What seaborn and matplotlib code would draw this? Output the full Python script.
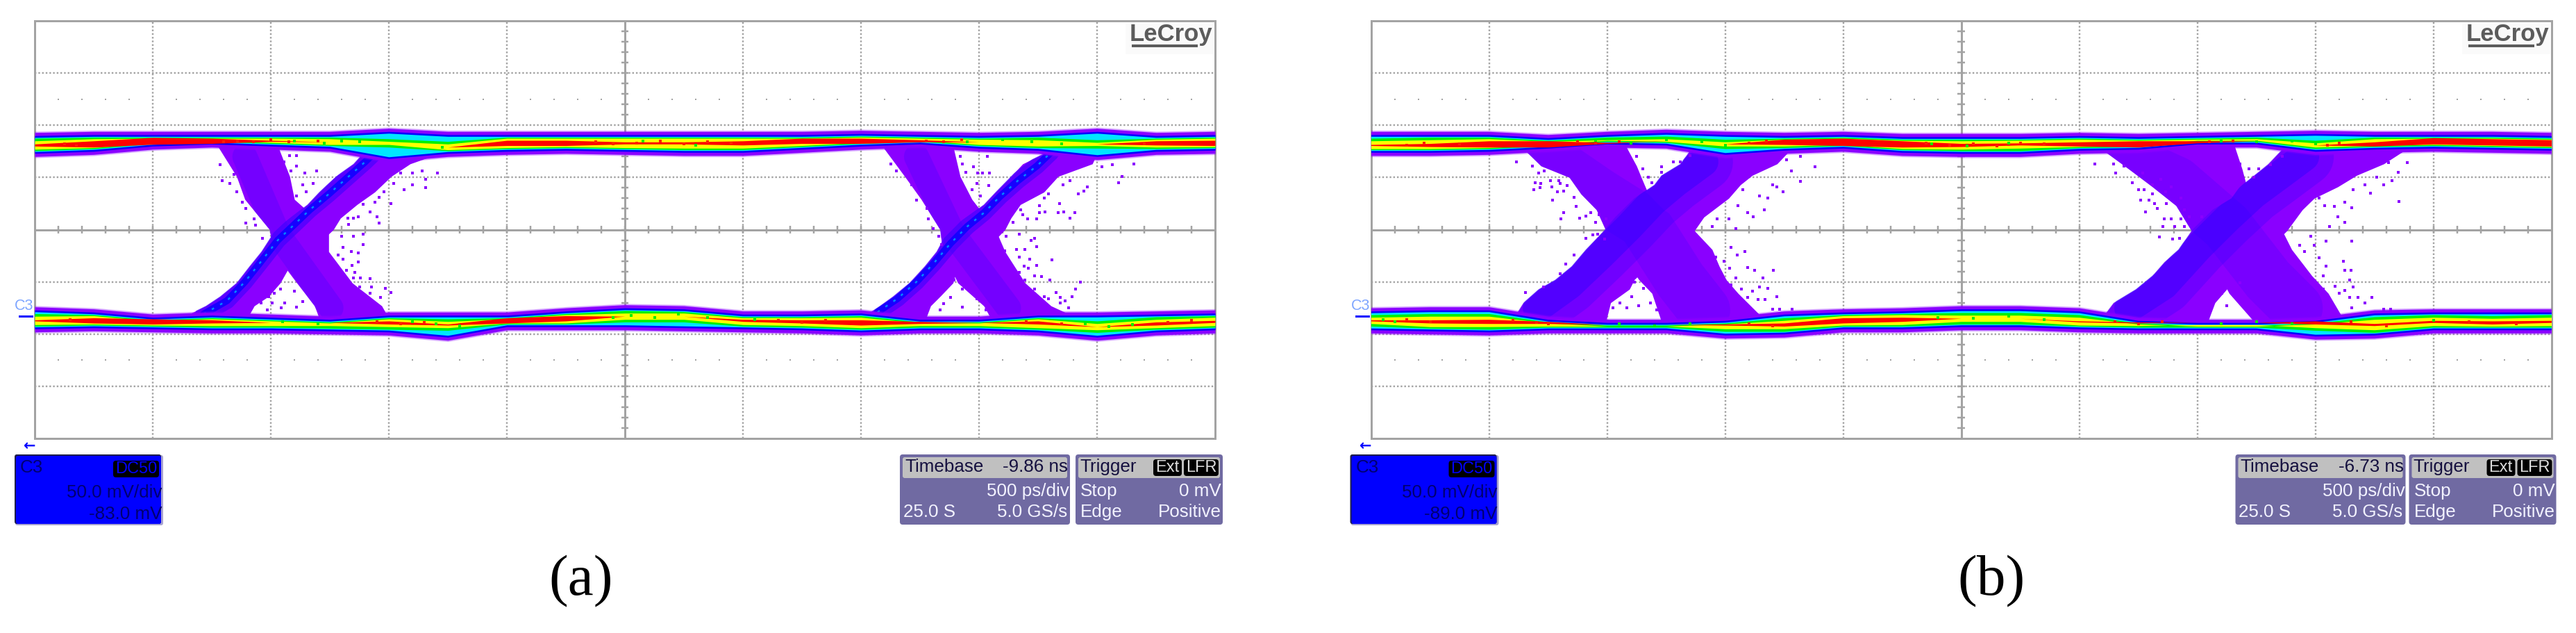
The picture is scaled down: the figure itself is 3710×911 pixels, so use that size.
import numpy as np
import matplotlib
matplotlib.use("Agg")
import matplotlib.pyplot as plt
from matplotlib.patches import FancyBboxPatch, Rectangle
import seaborn as sns

# time in divisions (500 ps/div), level in mV (50 mV/div)
rail_t = [0, .5, 1, 1.5, 2, 2.5, 3, 3.5, 4, 4.5, 5, 5.5, 6, 6.5, 7, 7.5, 8, 8.5, 9, 9.5, 10]

# panel a - upper rail
a_top_up = [93, 94, 94, 94, 94, 94, 97, 94, 94, 94, 94, 94, 94, 94, 95, 94, 93, 94, 97, 93, 94]
a_top_dn = [70, 72, 77, 79, 77, 75, 65, 70, 72, 73, 72, 71, 71, 74, 77, 79, 75, 73, 67, 72, 73]
a_top_c = [81, 82, 85, 85, 85, 84, 83, 79, 83, 83, 83, 83, 83, 85, 85, 85, 84, 83, 82, 83, 83]
a_top_red = [1, 3, 3.3, 2.5, .5, 0, 0, 0, 2.5, 2.5, 1, 1, 2, 2.5, 2.5, 1, 0, 0, 0, 2, 2.5]
a_top_yel = [4, 5, 5, 4, 3, 3, 1.5, 3, 5, 5, 5, 5, 5, 5, 5, 4, 3, 3, 1.5, 4, 5]
# panel a - lower rail
a_bot_up = [-74, -76, -81, -79, -81, -83, -79, -79, -79, -75, -72, -73, -78, -78, -77, -83, -83, -79, -79, -78, -77]
a_bot_dn = [-98, -97, -98, -99, -99, -100, -101, -106, -96, -96, -96, -97, -98, -99, -101, -99, -99, -101, -106, -101, -99]
a_bot_c = [-87, -87, -88, -88, -89, -89, -89, -91, -87, -85, -83, -83, -87, -88, -89, -89, -89, -89, -93, -90, -88]
a_bot_red = [.5, 2.5, 2.5, 1.5, 0, 0, 1.5, .5, 2.5, 2.5, 0, 0, 1, 1.5, 2.5, 1, 0, 1.5, 0, 1.5, 1]
a_bot_yel = [4, 5, 5, 4, 3, 3, 4, 3, 5, 5, 3, 3, 4, 4, 5, 3, 3, 5, 3, 4, 4]
# panel b - upper rail
b_top_up = [94, 94, 94, 91, 94, 96, 94, 93, 94, 92, 92, 92, 93, 92, 93, 94, 95, 94, 94, 94, 93]
b_top_dn = [71, 71, 72, 75, 79, 78, 69, 73, 75, 71, 70, 70, 73, 74, 79, 79, 72, 74, 75, 74, 73]
b_top_c = [81, 81, 82, 82, 83, 85, 82, 84, 84, 82, 81, 82, 82, 82, 84, 85, 81, 82, 85, 84, 83]
b_top_red = [.5, 1.5, 3, 3, .5, 0, 0, 2.5, 3.5, 3, 1.5, 1, 2, 3, 1, 0, 0, 2, 3, 3, 3]
b_top_yel = [4, 5, 5, 5, 3, 2, 2, 4, 5, 5, 4, 4, 5, 5, 3, 2, 2, 5, 5, 5, 5]
# panel b - lower rail
b_bot_up = [-75, -74, -74, -83, -86, -86, -84, -78, -76, -75, -73, -73, -75, -84, -86, -86, -84, -77, -76, -76, -76]
b_bot_dn = [-99, -100, -101, -99, -99, -99, -104, -103, -98, -98, -96, -96, -98, -99, -99, -99, -105, -104, -99, -99, -99]
b_bot_c = [-87, -88, -88, -89, -91, -91, -91, -91, -87, -86, -85, -85, -88, -89, -89, -89, -89, -91, -88, -89, -88]
b_bot_red = [.5, 1.5, 2, 1, 0, 0, .5, 1.5, 2.5, 2, 0, 0, .5, .5, 0, 0, 1.5, 1, 1, 1.5, 1]
b_bot_yel = [3, 5, 5, 4, 2, 2, 4, 4, 5, 5, 3, 3, 4, 3, 2, 2, 5, 5, 4, 4, 4]

# hot and cooler flecks where the rails look mottled
a_red_t = [1.6, 1.72, 1.85, 2.0, 2.15, 2.4, 4.75, 4.9, 5.1, 5.3, 5.5, 5.7, 5.9, 7.55, 7.7, 7.85, .25, .35, 9.4, 2.9, 3.1, 3.3, 6.3, 6.5, 6.7, 8.4, 8.7, 9.6, 9.8, .3]
a_red_v = [84, 85, 84, 86, 84, 85, 84, 82, 83, 85, 82, 84, 83, 85, 84, 86, 82, 80, 82, -88, -90, -89, -87, -89, -87, -88, -90, -89, -87, -86]
b_red_t = [.3, .45, .75, 1.75, 1.9, 2.1, 3.2, 3.35, 4.7, 4.9, 5.1, 5.3, 5.5, 5.7, 7.1, 7.3, 8.1, 8.2, .3, .5, 1.2, 1.4, 1.5, 3.2, 3.4, 6.3, 6.5, 6.7, 8.3, 8.6, 9.3, 9.7]
b_red_v = [81, 83, 82, 84, 83, 84, 83, 85, 83, 81, 82, 80, 83, 82, 84, 85, 81, 83, -86, -88, -87, -89, -90, -90, -92, -88, -90, -88, -88, -92, -88, -90]
a_grn_t = [2.2, 2.45, 2.6, 2.75, 3.45, 5.15, 5.6, 7.9, 8.2, 8.45, 8.7, 3.2, 3.4, 3.6, 4.9, 5.05, 5.25, 5.45, 5.7, 8.9, 9.1, 9.3, 2.1, 2.4, 6.1]
a_grn_v = [85, 83, 85, 84, 79, 85, 81, 84, 86, 84, 82, -88, -90, -92, -84, -82, -84, -81, -84, -90, -93, -91, -88, -90, -86]
b_grn_t = [1.9, 2.2, 2.5, 2.8, 3.0, 4.75, 5.05, 5.4, 7.2, 7.5, 7.8, 8.0, .1, .2, 2.1, 2.4, 2.7, 4.8, 5.1, 5.4, 5.7, 7.2, 7.5, 7.8, 9.0]
b_grn_v = [84, 83, 86, 84, 81, 82, 80, 83, 85, 84, 85, 82, -86, -88, -90, -92, -90, -84, -85, -83, -86, -90, -88, -90, -87]

# rising and falling edges, outline of the persistence cloud
a1_rise_v = [-85, -73, -64, -51, -35, -21, 0, 11, 24, 36, 51, 63, 73, 80]
a1_rise_l = [1.235, 1.45, 1.57, 1.71, 1.82, 1.92, 2.04, 2.16, 2.31, 2.41, 2.55, 2.70, 2.78, 2.86]
a1_rise_r = [1.80, 1.86, 1.98, 2.08, 2.16, 2.33, 2.53, 2.59, 2.73, 2.88, 3.02, 3.18, 3.43, 3.59]
a1_fall_v = [80, 51, 29, 0, -21, -51, -73, -85]
a1_fall_l = [1.55, 1.71, 1.78, 1.99, 2.02, 2.22, 2.37, 2.41]
a1_fall_r = [2.06, 2.16, 2.20, 2.49, 2.49, 2.69, 2.94, 3.0]
a1_core_t = [1.43, 1.63, 1.78, 1.90, 2.06, 2.20, 2.33, 2.49, 2.65, 2.80, 2.90]
a1_core_v = [-81, -68, -50, -33, -10, 5, 19, 34, 50, 65, 76]
a1_fcore_t = [1.78, 2.06, 2.51]
a1_fcore_v = [70, -4, -75]

a2_rise_v = [-85, -73, -64, -51, -35, -21, 0, 11, 24, 36, 51, 63, 73, 80]
a2_rise_l = [7.0, 7.16, 7.27, 7.41, 7.54, 7.64, 7.74, 7.88, 8.04, 8.14, 8.27, 8.37, 8.55, 8.61]
a2_rise_r = [7.55, 7.59, 7.67, 7.78, 7.82, 8.04, 8.22, 8.27, 8.35, 8.55, 8.67, 8.96, 9.0, 9.14]
a2_fall_v = [80, 51, 29, 0, -21, -51, -73, -85]
a2_fall_l = [7.18, 7.37, 7.51, 7.67, 7.69, 7.82, 8.04, 8.10]
a2_fall_r = [7.78, 7.84, 7.94, 8.14, 8.22, 8.39, 8.61, 8.84]
a2_core_t = [7.14, 7.31, 7.47, 7.61, 7.76, 7.90, 8.04, 8.18, 8.33, 8.49, 8.61]
a2_core_v = [-79, -66, -50, -33, -13, 3, 16, 32, 47, 61, 74]
a2_fcore_t = [7.47, 7.78, 8.25]
a2_fcore_v = [70, -4, -75]

b1_rise_v = [-88, -70, -57, -48, -35, -19, -1, 12, 30, 43, 52, 63, 82]
b1_rise_l = [1.19, 1.29, 1.42, 1.56, 1.70, 1.82, 1.97, 2.07, 2.23, 2.40, 2.46, 2.62, 2.74]
b1_rise_r = [1.99, 2.03, 2.19, 2.23, 2.35, 2.56, 2.74, 2.82, 3.03, 3.13, 3.23, 3.44, 3.60]
b1_fall_v = [82, 61, 50, 34, 19, -1, -19, -35, -48, -61, -88]
b1_fall_l = [1.25, 1.44, 1.68, 1.78, 1.91, 1.99, 2.11, 2.19, 2.27, 2.38, 2.46]
b1_fall_r = [2.15, 2.25, 2.29, 2.35, 2.48, 2.74, 2.89, 2.95, 3.01, 3.11, 3.35]
b1_core_t = [1.41, 1.68, 1.95, 2.19, 2.39, 2.58, 2.82]
b1_core_v = [-75, -53, -24, 3, 27, 45, 65]
b1_fcore_t = [1.44, 1.93, 2.31, 2.62, 2.82]
b1_fcore_v = [72, 34, 7, -48, -77]

b2_rise_v = [-88, -70, -57, -44, -31, -19, -1, 19, 30, 41, 52, 63, 82]
b2_rise_l = [6.17, 6.29, 6.48, 6.62, 6.72, 6.84, 6.95, 7.13, 7.29, 7.36, 7.48, 7.60, 7.76]
b2_rise_r = [7.09, 7.15, 7.25, 7.31, 7.40, 7.60, 7.76, 7.89, 7.99, 8.19, 8.35, 8.58, 8.84]
b2_fall_v = [82, 58, 41, 23, -1, -19, -44, -61, -88]
b2_fall_l = [6.13, 6.42, 6.62, 6.82, 6.95, 7.09, 7.19, 7.27, 7.48]
b2_fall_r = [7.31, 7.38, 7.42, 7.56, 7.72, 7.80, 7.97, 8.11, 8.25]
b2_core_t = [6.42, 6.72, 7.01, 7.25, 7.48, 7.72, 7.91]
b2_core_v = [-75, -53, -17, 10, 34, 54, 70]
b2_fcore_t = [6.33, 6.82, 7.25, 7.60, 7.84]
b2_fcore_v = [70, 45, 3, -48, -75]

# stray hits around each crossing
a1_spk_t = [2.65, 2.70, 2.74, 2.84, 2.90, 2.92, 2.66, 2.60, 2.70, 2.78, 2.78, 2.74, 2.68, 2.61, 2.57, 2.50, 2.55, 2.61, 2.69, 2.74,
            2.64, 2.71, 2.70, 2.76, 2.84, 2.75, 2.85, 2.84, 2.97, 3.02, 2.93, 3.02, 2.96, 2.92, 2.88, 2.78, 3.31, 3.20, 3.13, 3.04,
            3.28, 3.41, 3.20, 3.10, 3.31, 2.27, 2.36, 2.30, 2.22, 2.29, 2.39, 2.22, 2.16, 2.22, 2.11, 2.17, 1.57, 1.59, 1.71, 1.69,
            1.65, 1.76, 1.79, 1.86, 1.79, 1.87, 1.93, 1.92, 2.01, 2.03, 2.08, 2.20, 2.27, 2.22, 2.12, 1.98, 2.09, 1.97]
a1_spk_v = [11, 11, 12, 17, 12, 6, 5, -6, -6, -4, -14, -22, -21, -17, -24, -28, -35, -28, -34, -31,
            -39, -41, -46, -46, -47, -55, -55, -61, -56, -60, -65, 25, 36, 31, 26, 24, 40, 43, 38, 44,
            56, 54, 54, 54, 48, 43, 44, 36, 32, 54, 56, 61, 71, 71, 65, 56, 62, 47, 36, 53,
            44, 26, 20, 10, 6, 4, -8, -70, -70, -61, -57, -59, -69, -74, -70, -64, -75, -77]

a2_spk_t = [8.29, 8.37, 8.41, 8.49, 8.72, 8.67, 8.77, 8.68, 8.81, 8.84, 8.89, 8.92, 8.77, 8.71, 8.59, 8.55, 8.51, 8.56, 8.51, 8.35,
            8.23, 8.34, 8.44, 8.47, 8.49, 8.32, 8.39, 8.22, 8.34, 8.43, 8.62, 8.49, 8.38, 8.29, 8.34, 8.42, 8.47, 8.53, 8.39, 8.47,
            8.60, 8.55, 8.59, 8.69, 8.65, 8.82, 8.86, 8.79, 8.73, 8.69, 8.76, 7.25, 7.30, 7.35, 7.43, 7.47, 7.56, 7.57, 7.61, 7.66,
            7.68, 7.86, 7.89, 7.95, 7.99, 8.03, 8.09, 8.07, 7.98, 7.94, 8.01, 8.08, 7.84, 7.74, 7.79, 7.86, 7.76, 7.86, 7.98, 7.70,
            8.06, 7.67, 9.04, 9.13, 9.18, 9.31, 9.21]
a2_spk_v = [7, 14, 10, 10, 17, 16, 11, 25, 16, 34, 37, 41, 47, 43, 34, 30, 23, 17, 16, 19,
            -6, -4, -10, -8, -16, -19, -19, -20, -26, -28, -29, -34, -35, -37, -41, -37, -44, -45, -48, -57,
            -48, -64, -66, -65, -60, -57, -50, -64, -68, -70, -75, 63, 56, 58, 43, 28, 20, 10, 1, -6,
            -14, 63, 55, 60, 54, 54, 54, 70, 44, 38, 32, 42, 70, 74, -48, -57, -65, -74, -66, -71,
            -77, -77, 60, 62, 45, 63, 51]

b1_spk_t = [1.23, 1.37, 1.42, 1.47, 1.39, 1.44, 1.38, 1.43, 1.54, 1.53, 1.58, 1.63, 1.60, 1.66, 1.52, 1.59, 1.72, 1.74, 1.63, 1.61,
            1.77, 1.82, 1.86, 1.90, 1.93, 1.99, 1.82, 1.88, 1.92, 1.98, 1.72, 1.65, 1.60, 1.46, 1.31, 3.76, 3.64, 3.49, 3.36, 3.33,
            3.24, 3.19, 3.11, 3.06, 3.15, 3.29, 3.40, 3.44, 3.56, 3.52, 3.64, 3.03, 3.09, 2.93, 2.89, 2.82, 3.10, 3.17, 3.05, 3.19,
            3.25, 3.41, 3.32, 3.04, 3.09, 3.29, 3.36, 3.14, 3.44, 3.23, 3.19, 3.28, 3.34, 3.40, 3.57, 3.46, 2.99, 2.92, 2.86, 2.97,
            3.05, 2.19, 2.25, 2.30, 2.35, 2.38, 2.46, 2.56, 2.62, 2.46, 2.70, 2.23, 2.31, 2.21, 2.11, 2.05, 2.27, 2.37, 2.42, 2.17]
b1_spk_v = [65, 61, 54, 56, 45, 44, 38, 40, 28, 41, 36, 37, 44, 42, 47, 47, 31, 22, 16, 10,
            11, 13, 16, 7, 14, 10, -8, -5, -4, -9, -24, -33, -42, -55, -60, 60, 46, 36, 30, 19,
            12, 16, 23, 36, 38, 32, 43, 41, 56, 67, 70, 10, 1, 10, 3, 16, -24, -21, -17, -36,
            -39, -39, -46, -37, -46, -55, -56, -57, -64, -59, -65, -67, -67, -76, -76, -76, -30, -26, -30, -42,
            -53, 67, 70, 58, 50, 45, 55, 65, 65, 60, 71, -50, -56, -64, -70, -75, -73, -70, -77, -75]

b2_spk_t = [6.13, 6.29, 6.38, 6.31, 6.45, 6.50, 6.55, 6.54, 6.62, 6.69, 6.62, 6.73, 6.78, 6.52, 6.59, 6.64, 6.66, 6.74, 6.56, 6.72,
            6.78, 6.71, 6.81, 6.86, 6.93, 6.89, 6.86, 7.04, 6.85, 6.79, 6.68, 6.89, 8.71, 8.58, 8.65, 8.42, 8.47, 8.32, 8.25, 8.31,
            8.16, 8.25, 8.19, 8.12, 8.02, 8.08, 8.03, 8.70, 8.78, 8.62, 8.52, 8.31, 8.09, 8.24, 8.30, 8.25, 8.09, 8.29, 8.32, 8.25,
            8.17, 8.36, 8.29, 8.48, 8.42, 8.31, 8.58, 8.64, 8.07, 8.03, 7.99, 7.91, 7.96, 7.87, 8.20, 8.07, 7.27, 7.36, 7.44, 7.48,
            7.36, 7.27, 7.52, 7.62, 7.72, 7.36, 7.29, 7.21, 7.13, 7.25, 7.36, 7.44, 7.09, 7.47]
b2_spk_v = [63, 63, 61, 54, 45, 38, 38, 54, 43, 48, 34, 36, 41, 28, 28, 25, 20, 25, 17, 10,
            10, 3, 3, 10, 12, 19, 30, 12, -8, -9, -7, 3, 27, 43, 47, 43, 35, 38, 26, 21,
            22, 7, 12, 3, 38, 23, 30, 55, 64, 64, 50, -11, -11, -30, -39, -39, -35, -48, -55, -58,
            -54, -65, -65, -65, -70, -75, -76, -76, -44, -27, -15, -21, -6, -15, -61, -57, 68, 63, 58, 50,
            51, 52, 58, 62, 70, -51, -50, -61, -66, -73, -64, -70, -76, -77]

sns.set_theme(style="white")
plt.rcParams["font.family"] = ["Liberation Sans", "DejaVu Sans"]

W, H = 3710, 911
fig = plt.figure(figsize=(W / 100, H / 100), dpi=100, facecolor="white")

GRID = "#a3a3a3"
PURPLE = "#8a00ff"


def px(n):
    return n * 0.72


def scope_axes(x0):
    ax = fig.add_axes([x0 / W, (H - 631) / H, 1700 / W, 601 / H])
    ax.set_xlim(0, 10)
    ax.set_ylim(-200, 200)
    ax.set_xticks([])
    ax.set_yticks([])
    for s in ax.spines.values():
        s.set_color(GRID)
        s.set_linewidth(px(3))
    for t in [1, 2, 3, 4, 6, 7, 8, 9]:
        ax.axvline(t, color=GRID, lw=px(2.4), ls=(0, (1, 1.2)), zorder=1)
    for v in [-150, -100, -50, 50, 100, 150]:
        ax.axhline(v, color=GRID, lw=px(2.4), ls=(0, (1, 1.2)), zorder=1)
    ax.axvline(5, color=GRID, lw=px(3), zorder=1)
    ax.axhline(0, color=GRID, lw=px(3), zorder=1)
    ticks_t = np.arange(0.2, 10, 0.2)
    ticks_v = np.arange(-190, 200, 10)
    ax.vlines(ticks_t, -3.5, 3.5, color=GRID, lw=px(2.5), zorder=1)
    ax.hlines(ticks_v, 4.97, 5.03, color=GRID, lw=px(2.5), zorder=1)
    dots_t = [t for t in ticks_t if abs(t - round(t)) > 0.01]
    for v in [125, -125]:
        sns.scatterplot(x=dots_t, y=[v] * len(dots_t), ax=ax, marker="s", s=4, color=GRID,
                        linewidth=0, legend=False, zorder=1)
    return ax


def soft_line(ax, xy, color, width, alpha, clip, **kw):
    sns.lineplot(x=xy[0], y=xy[1], ax=ax, sort=False, estimator=None, color=color, lw=px(width),
                 alpha=alpha, solid_capstyle="round", legend=False, zorder=3, **kw)
    line = ax.lines[-1]
    line.set_clip_path(clip.get_paths()[0], ax.transData)


def draw_eye(ax, rise, fall, core, fcore, spk, dense):
    r = ax.fill_betweenx(rise[0], rise[1], rise[2], color=PURPLE, lw=0, zorder=2)
    f = ax.fill_betweenx(fall[0], fall[1], fall[2], color=PURPLE, lw=0, zorder=2)
    if dense:
        # eye is closing: traces smear out into a wide soft ridge
        soft_line(ax, fcore, "#4a00ff", 76, 0.28, f)
        soft_line(ax, core, "#3000ff", 84, 0.28, r)
        soft_line(ax, core, "#1c00ff", 42, 0.35, r)
    else:
        soft_line(ax, fcore, "#5a00ff", 36, 0.45, f)
        soft_line(ax, core, "#3a00ff", 24, 0.6, r)
        soft_line(ax, core, "#1000ff", 10, 0.9, r)
        soft_line(ax, core, "#00a8ff", 2.5, 0.8, r, ls=(0, (1.5, 4)))
    sns.scatterplot(x=spk[0], y=spk[1], ax=ax, marker="s", s=12, color=PURPLE, linewidth=0,
                    legend=False, zorder=3)


def draw_rail(ax, up, dn, c, red, yel):
    up, dn, c, red, yel = [np.array(a, dtype=float) for a in (up, dn, c, red, yel)]
    # faint halo so the noise edge of the rail is not razor sharp
    ax.fill_between(rail_t, dn - 1.2, up + 1.2, color=PURPLE, alpha=0.35, lw=0, zorder=3.5)
    ax.fill_between(rail_t, dn, up, color=PURPLE, lw=0, zorder=4)
    ax.fill_between(rail_t, dn + 3, up - 3, color="#0000ff", lw=0, zorder=4)
    ax.fill_between(rail_t, dn + 4.7, up - 4.7, color="#00e6ff", lw=0, zorder=4)
    g_hi = np.minimum(c + yel + 2.5, up - 5.5)
    g_lo = np.maximum(c - yel - 2.5, dn + 5.5)
    ax.fill_between(rail_t, g_lo, g_hi, color="#00f000", lw=0, zorder=4)
    y_hi = np.minimum(c + yel, g_hi - 1)
    y_lo = np.maximum(c - yel, g_lo + 1)
    ax.fill_between(rail_t, y_lo, y_hi, color="#ffff00", lw=0, zorder=4)
    ax.fill_between(rail_t, c - red, c + red, color="#ff0000", lw=0, zorder=5)


def flecks(ax, t, v, color):
    sns.scatterplot(x=t, y=v, ax=ax, marker="s", s=10, color=color, linewidth=0, legend=False, zorder=6)


ax_a = scope_axes(50)
ax_b = scope_axes(1974.5)

draw_eye(ax_a, (a1_rise_v, a1_rise_l, a1_rise_r), (a1_fall_v, a1_fall_l, a1_fall_r),
         (a1_core_t, a1_core_v), (a1_fcore_t, a1_fcore_v), (a1_spk_t, a1_spk_v), False)
draw_eye(ax_a, (a2_rise_v, a2_rise_l, a2_rise_r), (a2_fall_v, a2_fall_l, a2_fall_r),
         (a2_core_t, a2_core_v), (a2_fcore_t, a2_fcore_v), (a2_spk_t, a2_spk_v), False)
draw_eye(ax_b, (b1_rise_v, b1_rise_l, b1_rise_r), (b1_fall_v, b1_fall_l, b1_fall_r),
         (b1_core_t, b1_core_v), (b1_fcore_t, b1_fcore_v), (b1_spk_t, b1_spk_v), True)
draw_eye(ax_b, (b2_rise_v, b2_rise_l, b2_rise_r), (b2_fall_v, b2_fall_l, b2_fall_r),
         (b2_core_t, b2_core_v), (b2_fcore_t, b2_fcore_v), (b2_spk_t, b2_spk_v), True)

draw_rail(ax_a, a_top_up, a_top_dn, a_top_c, a_top_red, a_top_yel)
draw_rail(ax_a, a_bot_up, a_bot_dn, a_bot_c, a_bot_red, a_bot_yel)
draw_rail(ax_b, b_top_up, b_top_dn, b_top_c, b_top_red, b_top_yel)
draw_rail(ax_b, b_bot_up, b_bot_dn, b_bot_c, b_bot_red, b_bot_yel)

flecks(ax_a, a_grn_t, a_grn_v, "#00f000")
flecks(ax_b, b_grn_t, b_grn_v, "#00f000")
flecks(ax_a, a_red_t, a_red_v, "#ff2000")
flecks(ax_b, b_red_t, b_red_v, "#ff2000")

# everything printed around the graticule, placed in figure pixels
ov = fig.add_axes([0, 0, 1, 1], zorder=10)
ov.set_xlim(0, W)
ov.set_ylim(H, 0)
ov.axis("off")
ov.patch.set_alpha(0)


def box(x0, y0, x1, y1, color, r=3, z=1):
    ov.add_patch(FancyBboxPatch((x0, y0), x1 - x0, y1 - y0, boxstyle=f"round,pad=0,rounding_size={r}",
                                fc=color, ec="none", zorder=z))


def label(x, y, s, color, ha="left", size=18.7, **kw):
    ov.text(x, y, s, color=color, ha=ha, va="center", fontsize=size, zorder=5, **kw)


def furniture(dx, panel_dx, trig_dx, timebase, offset):
    # LeCroy logo
    ov.add_patch(Rectangle((1621 + panel_dx, 33), 127, 45, fc="#fafafa", ec="none", zorder=1))
    label(1627 + panel_dx, 49, "LeCroy", "#5c5c5c", size=25, weight="bold")
    ov.add_patch(Rectangle((1630 + panel_dx, 64), 95, 4, fc="#5c5c5c", ec="none", zorder=2))
    # channel marker on the left of the graticule
    label(21 + panel_dx, 441, "C3", "#7fa6ff", size=15.5)
    ov.add_patch(Rectangle((27 + panel_dx, 453.5), 21, 3, fc="#0000ff", ec="none", zorder=2))
    label(43 + dx, 642, "\u2190", "#0000ff", ha="center", size=15, family="DejaVu Sans", weight="bold")
    # channel box
    box(22 + dx, 655, 235 + dx, 756, "#a9a4d0")
    box(21 + dx, 654, 232 + dx, 754, "#20204a")
    box(23 + dx, 656, 232 + dx, 754, "#0000ff")
    label(29 + dx, 673, "C3", "#000070")
    box(163 + dx, 663, 229 + dx, 687, "#000000", r=4, z=2)
    label(196 + dx, 675, "DC50", "#0000ff", ha="center", size=17)
    label(233 + dx, 709, "50.0 mV/div", "#000070", ha="right")
    label(233 + dx, 740, offset, "#000070", ha="right")
    # timebase box
    box(1296 + dx, 654, 1541 + dx, 755, "#706aa2", r=4)
    box(1300 + dx, 658, 1537 + dx, 688, "#c0c0c0", r=3, z=2)
    label(1303 + dx, 672, "Timebase", "#15103f")
    label(1538 + dx, 672, timebase, "#15103f", ha="right")
    label(1540 + dx, 707, "500 ps/div", "#f2f2ff", ha="right")
    label(1301 + dx, 737, "25.0 S", "#f2f2ff")
    label(1537 + dx, 737, "5.0 GS/s", "#f2f2ff", ha="right")
    # trigger box
    tx = dx + trig_dx
    box(1549 + tx, 654, 1761 + tx, 755, "#706aa2", r=4)
    box(1553 + tx, 658, 1757 + tx, 688, "#c0c0c0", r=3, z=2)
    label(1555 + tx, 672, "Trigger", "#15103f")
    box(1661 + tx, 661, 1702 + tx, 685, "#000000", r=4, z=3)
    box(1705 + tx, 661, 1755 + tx, 685, "#000000", r=4, z=3)
    label(1681 + tx, 673, "Ext", "#dddddd", ha="center", size=17)
    label(1730 + tx, 673, "LFR", "#dddddd", ha="center", size=17)
    label(1556 + tx, 707, "Stop", "#f2f2ff")
    label(1759 + tx, 707, "0 mV", "#f2f2ff", ha="right")
    label(1556 + tx, 737, "Edge", "#f2f2ff")
    label(1759 + tx, 737, "Positive", "#f2f2ff", ha="right")


furniture(0, 0, 0, "-9.86 ns", "-83.0 mV")
furniture(1923.5, 1924.5, -3, "-6.73 ns", "-89.0 mV")

ov.text(837, 837, "(a)", fontsize=60, family="Liberation Serif", color="black", ha="center", va="center")
ov.text(2868, 837, "(b)", fontsize=60, family="Liberation Serif", color="black", ha="center", va="center")

fig.savefig("out.png", dpi=100)
